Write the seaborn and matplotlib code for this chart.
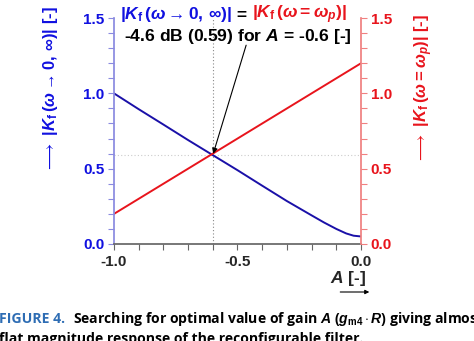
import matplotlib
matplotlib.use("Agg")
import matplotlib.pyplot as plt
import seaborn as sns
import pandas as pd
import numpy as np

# Data
A_blue = [-1.0, -0.9, -0.8, -0.7, -0.6, -0.5, -0.4, -0.3, -0.2, -0.15, -0.1, -0.06, -0.03, 0.0]
K_blue = [1.0, 0.895, 0.793, 0.69, 0.59, 0.49, 0.387, 0.285, 0.19, 0.143, 0.1, 0.07, 0.055, 0.05]
A_red = [-1.0, -0.8, -0.6, -0.4, -0.2, 0.0]
K_red = [0.2, 0.4, 0.6, 0.8, 1.0, 1.2]
A_opt = -0.6
K_opt = 0.59
x_ticks = [-1.0, -0.5, 0.0]
y_ticks = [0.0, 0.5, 1.0, 1.5]

sns.set_theme(style="white")
plt.rcParams['font.family'] = ['Liberation Sans', 'DejaVu Sans']
plt.rcParams['mathtext.fontset'] = 'custom'
plt.rcParams['mathtext.rm'] = 'Liberation Sans:bold'
plt.rcParams['mathtext.it'] = 'Liberation Sans:italic:bold'
plt.rcParams['mathtext.bf'] = 'Liberation Sans:bold'
plt.rcParams['mathtext.sf'] = 'Liberation Sans:bold'

BLUE = "#1a10a8"
BLUE_T = "#1010e0"
RED = "#e8141c"
AX_BLUE = "#8a8ae0"
AX_RED = "#f08080"

fig = plt.figure(figsize=(4.74, 3.41), dpi=100)
ax = fig.add_axes([0.2405, 0.2845, 0.5211, 0.6625])

df_b = pd.DataFrame({"A": A_blue, "K": K_blue})
df_r = pd.DataFrame({"A": A_red, "K": K_red})
sns.lineplot(data=df_b, x="A", y="K", ax=ax, color=BLUE, lw=1.4)
sns.lineplot(data=df_r, x="A", y="K", ax=ax, color=RED, lw=1.4)

ax.set_xlim(-1.0, 0.0)
ax.set_ylim(0.0, 1.5)
ax.axvline(A_opt, color="#888888", lw=0.8, ls=(0, (1, 2)), zorder=0)
ax.axhline(K_opt, color="#cccccc", lw=0.8, ls=(0, (1, 2)), zorder=0)

ax.set_xticks(x_ticks)
ax.set_xticks(np.arange(-1.0, 0.01, 0.1), minor=True)
ax.set_yticks(y_ticks)
ax.set_yticks(np.arange(0, 1.51, 0.1), minor=True)
ax.set_xticklabels([f"{v:.1f}" for v in x_ticks], fontsize=11, fontweight="bold")
ax.set_yticklabels([f"{v:.1f}" for v in y_ticks], fontsize=11, fontweight="bold", color=BLUE_T)
ax.tick_params(axis="x", which="both", direction="out", length=4, width=0.8, color="#666666", pad=4, bottom=True)
ax.tick_params(axis="y", which="both", direction="out", length=4, width=0.8, color=AX_BLUE, pad=3, left=True)
ax.spines["top"].set_visible(False)
ax.spines["right"].set_visible(False)
ax.spines["left"].set_color(AX_BLUE)
ax.spines["bottom"].set_color("#666666")
ax.set_xlabel("")
ax.set_ylabel(r"$\longrightarrow$ |$K_\mathrm{f}\,(\omega \rightarrow 0,\,\infty)$| [-]",
              color=BLUE_T, fontsize=12, fontweight="bold")
ax.yaxis.set_label_coords(-0.219, 0.686)

ax2 = ax.twinx()
ax2.set_ylim(0.0, 1.5)
ax2.set_yticks(y_ticks)
ax2.set_yticks(np.arange(0, 1.51, 0.1), minor=True)
ax2.set_yticklabels([f"{v:.1f}" for v in y_ticks], fontsize=11, fontweight="bold", color=RED)
ax2.tick_params(axis="y", which="both", direction="out", length=4, width=0.8, color=AX_RED, pad=3, right=True)
for s in ["top", "left", "bottom"]:
    ax2.spines[s].set_visible(False)
ax2.spines["right"].set_color(AX_RED)
ax2.set_ylabel(r"$\longrightarrow$ |$K_\mathrm{f}\,(\omega = \omega_p)$| [-]",
               color=RED, fontsize=12, fontweight="bold", rotation=90)
ax2.yaxis.set_label_coords(1.21, 0.69)
ax2.grid(False)
ax.grid(False)

# x label
fig.text(0.735, 1 - 278 / 341, r"$A$ [-]", fontsize=12.5, fontweight="bold", ha="center", va="center")
fig.add_artist(matplotlib.patches.FancyArrowPatch((0.712, 1 - 292 / 341), (0.785, 1 - 292 / 341),
               transform=fig.transFigure, arrowstyle="-|>", mutation_scale=6, lw=0.8, color="black"))

# Title pieces
fig.canvas.draw()
r = fig.canvas.get_renderer()
parts = [(r"|$K_\mathrm{f}\,(\omega \rightarrow 0,\,\infty)$|", BLUE_T),
         (" = ", "black"),
         (r"|$K_\mathrm{f}\,(\omega = \omega_p)$|", RED)]
x0 = 120 / 474
y0 = 1 - 15 / 341
for txt, c in parts:
    t = fig.text(x0, y0, txt, color=c, fontsize=12.5, fontweight="bold", ha="left", va="center")
    bb = t.get_window_extent(renderer=r)
    x0 += bb.width / fig.bbox.width
fig.text(238 / 474, 1 - 36 / 341, r"-4.6 dB (0.59) for $A$ = -0.6 [-]", fontsize=12.6,
         fontweight="bold", ha="center", va="center", color="black")

# annotation arrow
ax.annotate("", xy=(A_opt, K_opt), xytext=(-0.465, 1.32),
            arrowprops=dict(arrowstyle="-|>", color="black", lw=0.8, mutation_scale=8, shrinkA=0, shrinkB=1))

# Caption
cap_y1 = 1 - 319 / 341
t1 = fig.text(-0.003, cap_y1, "FIGURE 4.", fontsize=10.1, fontweight="bold", color="#2e6db4",
              family="Open Sans", ha="left", va="center")
bb = t1.get_window_extent(renderer=r)
fig.text(73 / 474, cap_y1,
         r"Searching for optimal value of gain $A$ ($g_{\mathrm{m4}}\cdot R$) giving almost",
         fontsize=10.1, fontweight="bold", color="black", family="Open Sans", ha="left", va="center")
fig.text(-0.003, 1 - 339 / 341, "flat magnitude response of the reconfigurable filter.",
         fontsize=10.1, fontweight="bold", color="black", family="Open Sans", ha="left", va="center")

fig.savefig("out.png", dpi=100)
